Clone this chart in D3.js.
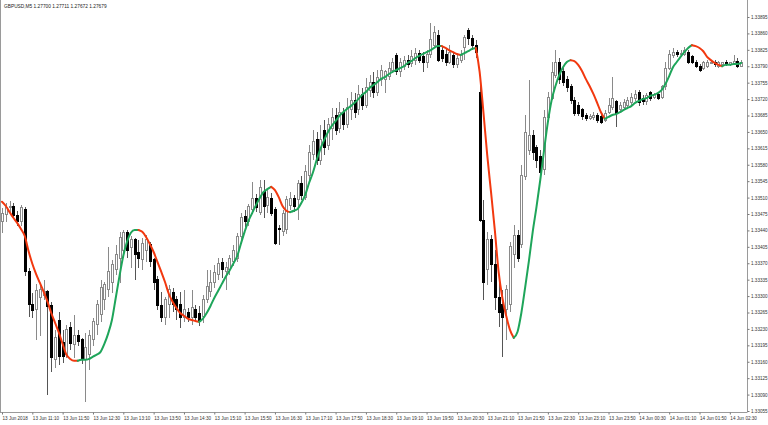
<!DOCTYPE html>
<html><head><meta charset="utf-8">
<script src="https://cdn.jsdelivr.net/npm/d3@7"></script>
<style>
html,body{margin:0;padding:0;background:#fff;}
svg{display:block;}
text{font-family:"Liberation Sans",Arial,sans-serif;}
</style></head>
<body>
<svg id="c" width="768" height="425"></svg>
<script>
const title = "GBPUSD,M5  1.27700 1.27711 1.27672 1.27679";
const timeLabels = ["13 Jun 2018","13 Jun 11:10","13 Jun 11:50","13 Jun 12:30","13 Jun 13:10","13 Jun 13:50","13 Jun 14:30","13 Jun 15:10","13 Jun 15:50","13 Jun 16:30","13 Jun 17:10","13 Jun 17:50","13 Jun 18:30","13 Jun 19:10","13 Jun 19:50","13 Jun 20:30","13 Jun 21:10","13 Jun 21:50","13 Jun 22:30","13 Jun 23:10","13 Jun 23:50","14 Jun 00:30","14 Jun 01:10","14 Jun 01:50","14 Jun 02:30"];
const priceTicks = [1.33895,1.33860,1.33825,1.33790,1.33755,1.33720,1.33685,1.33650,1.33615,1.33580,1.33545,1.33510,1.33475,1.33440,1.33405,1.33370,1.33335,1.33300,1.33265,1.33230,1.33195,1.33160,1.33125,1.33090,1.33055];

const open = [1.33458,1.33475,1.33488,1.33492,1.33471,1.33458,1.33484,1.33352,1.33281,1.33271,
1.33296,1.33301,1.33309,1.33279,1.33164,1.33249,1.33200,1.33175,1.33232,1.33196,
1.33217,1.33207,1.33164,1.33175,1.33207,1.33239,1.33260,1.33292,1.33313,1.33330,
1.33356,1.33381,1.33398,1.33435,1.33403,1.33420,1.33392,1.33377,1.33398,1.33409,
1.33377,1.33335,1.33279,1.33254,1.33281,1.33307,1.33292,1.33281,1.33254,1.33266,
1.33254,1.33271,1.33262,1.33256,1.33292,1.33309,1.33328,1.33345,1.33371,1.33352,
1.33356,1.33373,1.33381,1.33426,1.33469,1.33458,1.33484,1.33509,1.33479,1.33522,
1.33494,1.33509,1.33484,1.33445,1.33437,1.33441,1.33494,1.33509,1.33505,1.33541,
1.33511,1.33558,1.33601,1.33633,1.33590,1.33654,1.33622,1.33658,1.33686,1.33658,
1.33692,1.33665,1.33697,1.33718,1.33697,1.33729,1.33707,1.33739,1.33756,1.33735,
1.33761,1.33761,1.33769,1.33782,1.33812,1.33778,1.33790,1.33803,1.33795,1.33803,
1.33818,1.33810,1.33799,1.33814,1.33835,1.33856,1.33824,1.33814,1.33799,1.33812,
1.33793,1.33803,1.33829,1.33867,1.33850,1.33835,1.33733,1.33462,1.33356,1.33420,
1.33367,1.33298,1.33281,1.33271,1.33281,1.33388,1.33430,1.33409,1.33554,1.33611,
1.33643,1.33616,1.33597,1.33569,1.33680,1.33722,1.33771,1.33797,1.33778,1.33761,
1.33746,1.33718,1.33707,1.33697,1.33686,1.33678,1.33680,1.33686,1.33682,1.33675,
1.33692,1.33701,1.33714,1.33697,1.33703,1.33707,1.33712,1.33722,1.33735,1.33722,
1.33714,1.33733,1.33724,1.33729,1.33724,1.33746,1.33786,1.33812,1.33820,1.33814,
1.33816,1.33820,1.33810,1.33799,1.33790,1.33786,1.33790,1.33797,1.33799,1.33790,
1.33793,1.33799,1.33793,1.33795,1.33801,1.33790];

const high = [1.33488,1.33499,1.33503,1.33499,1.33482,1.33494,1.33490,1.33360,1.33307,1.33326,
1.33322,1.33335,1.33313,1.33288,1.33228,1.33266,1.33228,1.33239,1.33245,1.33260,
1.33228,1.33211,1.33222,1.33228,1.33254,1.33292,1.33335,1.33330,1.33405,1.33377,
1.33409,1.33437,1.33441,1.33441,1.33428,1.33424,1.33420,1.33424,1.33430,1.33416,
1.33381,1.33343,1.33309,1.33298,1.33324,1.33318,1.33301,1.33309,1.33313,1.33275,
1.33313,1.33281,1.33279,1.33303,1.33356,1.33356,1.33367,1.33381,1.33381,1.33373,
1.33388,1.33409,1.33435,1.33477,1.33484,1.33496,1.33543,1.33518,1.33548,1.33548,
1.33526,1.33520,1.33490,1.33452,1.33484,1.33514,1.33522,1.33516,1.33548,1.33556,
1.33580,1.33622,1.33654,1.33650,1.33665,1.33675,1.33680,1.33701,1.33701,1.33714,
1.33701,1.33722,1.33735,1.33733,1.33750,1.33744,1.33765,1.33771,1.33778,1.33782,
1.33793,1.33782,1.33799,1.33807,1.33818,1.33807,1.33812,1.33814,1.33824,1.33829,
1.33824,1.33820,1.33824,1.33882,1.33876,1.33867,1.33833,1.33829,1.33835,1.33818,
1.33814,1.33824,1.33856,1.33871,1.33856,1.33846,1.33767,1.33505,1.33437,1.33430,
1.33398,1.33341,1.33313,1.33324,1.33416,1.33452,1.33441,1.33580,1.33686,1.33761,
1.33654,1.33622,1.33611,1.33697,1.33735,1.33799,1.33824,1.33807,1.33786,1.33769,
1.33752,1.33724,1.33714,1.33701,1.33690,1.33688,1.33692,1.33690,1.33688,1.33697,
1.33722,1.33767,1.33718,1.33714,1.33720,1.33724,1.33733,1.33739,1.33739,1.33729,
1.33733,1.33737,1.33733,1.33733,1.33750,1.33799,1.33824,1.33829,1.33824,1.33824,
1.33831,1.33824,1.33814,1.33803,1.33795,1.33801,1.33803,1.33803,1.33803,1.33801,
1.33799,1.33803,1.33799,1.33814,1.33807,1.33803];

const low = [1.33435,1.33458,1.33475,1.33465,1.33450,1.33450,1.33343,1.33256,1.33254,1.33207,
1.33215,1.33292,1.33090,1.33139,1.33147,1.33154,1.33158,1.33168,1.33185,1.33168,
1.33194,1.33156,1.33075,1.33143,1.33194,1.33217,1.33245,1.33271,1.33298,1.33307,
1.33345,1.33328,1.33381,1.33381,1.33360,1.33335,1.33360,1.33356,1.33373,1.33362,
1.33313,1.33271,1.33245,1.33239,1.33254,1.33266,1.33249,1.33232,1.33245,1.33245,
1.33239,1.33245,1.33237,1.33243,1.33286,1.33298,1.33318,1.33335,1.33339,1.33313,
1.33345,1.33364,1.33373,1.33413,1.33447,1.33450,1.33477,1.33479,1.33473,1.33467,
1.33477,1.33471,1.33409,1.33409,1.33428,1.33433,1.33484,1.33479,1.33462,1.33505,
1.33505,1.33548,1.33590,1.33580,1.33580,1.33601,1.33611,1.33633,1.33643,1.33648,
1.33654,1.33658,1.33675,1.33680,1.33686,1.33697,1.33701,1.33724,1.33722,1.33727,
1.33748,1.33733,1.33761,1.33776,1.33771,1.33767,1.33782,1.33786,1.33788,1.33793,
1.33797,1.33778,1.33786,1.33807,1.33829,1.33799,1.33799,1.33790,1.33795,1.33786,
1.33786,1.33797,1.33803,1.33835,1.33824,1.33807,1.33458,1.33292,1.33324,1.33330,
1.33271,1.33234,1.33171,1.33207,1.33266,1.33360,1.33373,1.33403,1.33548,1.33601,
1.33590,1.33573,1.33548,1.33558,1.33671,1.33718,1.33765,1.33752,1.33748,1.33735,
1.33709,1.33684,1.33684,1.33675,1.33673,1.33675,1.33675,1.33669,1.33667,1.33671,
1.33688,1.33697,1.33660,1.33690,1.33697,1.33701,1.33707,1.33716,1.33705,1.33707,
1.33707,1.33716,1.33720,1.33718,1.33720,1.33739,1.33782,1.33807,1.33810,1.33812,
1.33812,1.33795,1.33795,1.33786,1.33778,1.33782,1.33786,1.33795,1.33788,1.33786,
1.33790,1.33790,1.33790,1.33793,1.33786,1.33788];

const close = [1.33477,1.33488,1.33492,1.33471,1.33458,1.33488,1.33352,1.33281,1.33269,1.33311,
1.33313,1.33309,1.33277,1.33168,1.33211,1.33171,1.33171,1.33228,1.33198,1.33217,
1.33203,1.33164,1.33190,1.33217,1.33245,1.33281,1.33318,1.33324,1.33352,1.33367,
1.33388,1.33424,1.33435,1.33398,1.33420,1.33388,1.33381,1.33413,1.33420,1.33373,
1.33328,1.33279,1.33254,1.33292,1.33313,1.33281,1.33271,1.33254,1.33271,1.33254,
1.33275,1.33254,1.33245,1.33292,1.33320,1.33330,1.33350,1.33369,1.33356,1.33360,
1.33381,1.33398,1.33426,1.33467,1.33458,1.33490,1.33509,1.33488,1.33531,1.33490,
1.33511,1.33477,1.33413,1.33441,1.33477,1.33505,1.33509,1.33490,1.33541,1.33514,
1.33565,1.33607,1.33629,1.33590,1.33633,1.33616,1.33665,1.33680,1.33654,1.33692,
1.33665,1.33701,1.33718,1.33692,1.33729,1.33707,1.33744,1.33756,1.33735,1.33765,
1.33782,1.33778,1.33786,1.33799,1.33778,1.33797,1.33803,1.33793,1.33810,1.33818,
1.33803,1.33797,1.33814,1.33846,1.33863,1.33803,1.33807,1.33799,1.33820,1.33793,
1.33807,1.33814,1.33852,1.33850,1.33835,1.33820,1.33462,1.33328,1.33420,1.33367,
1.33298,1.33264,1.33254,1.33313,1.33405,1.33430,1.33381,1.33558,1.33648,1.33643,
1.33607,1.33590,1.33563,1.33680,1.33724,1.33776,1.33797,1.33761,1.33756,1.33744,
1.33718,1.33690,1.33690,1.33682,1.33678,1.33682,1.33686,1.33675,1.33671,1.33690,
1.33707,1.33722,1.33690,1.33707,1.33712,1.33718,1.33724,1.33729,1.33712,1.33714,
1.33727,1.33722,1.33729,1.33722,1.33746,1.33786,1.33814,1.33820,1.33814,1.33818,
1.33824,1.33799,1.33799,1.33790,1.33782,1.33797,1.33799,1.33799,1.33793,1.33797,
1.33797,1.33793,1.33797,1.33801,1.33790,1.33799];

const maLine = [1.33501,1.33492,1.33479,1.33467,1.33456,1.33443,1.33428,1.33396,1.33369,1.33347,
1.33328,1.33309,1.33288,1.33264,1.33243,1.33222,1.33198,1.33175,1.33166,1.33162,
1.33162,1.33164,1.33164,1.33166,1.33171,1.33175,1.33181,1.33198,1.33220,1.33249,
1.33296,1.33343,1.33386,1.33416,1.33435,1.33441,1.33441,1.33437,1.33426,1.33411,
1.33394,1.33373,1.33352,1.33330,1.33305,1.33288,1.33275,1.33264,1.33258,1.33252,
1.33249,1.33247,1.33245,1.33252,1.33264,1.33279,1.33296,1.33311,1.33326,1.33341,
1.33354,1.33369,1.33384,1.33411,1.33437,1.33460,1.33477,1.33494,1.33509,1.33522,
1.33528,1.33533,1.33526,1.33511,1.33492,1.33482,1.33479,1.33482,1.33486,1.33499,
1.33516,1.33541,1.33563,1.33590,1.33614,1.33633,1.33650,1.33663,1.33673,1.33684,
1.33692,1.33699,1.33705,1.33712,1.33720,1.33729,1.33735,1.33744,1.33750,1.33756,
1.33763,1.33767,1.33773,1.33778,1.33782,1.33786,1.33790,1.33797,1.33801,1.33807,
1.33812,1.33816,1.33820,1.33824,1.33829,1.33833,1.33833,1.33829,1.33824,1.33820,
1.33816,1.33814,1.33818,1.33822,1.33827,1.33829,1.33778,1.33692,1.33601,1.33522,
1.33441,1.33352,1.33296,1.33258,1.33228,1.33211,1.33224,1.33264,1.33318,1.33375,
1.33437,1.33490,1.33548,1.33611,1.33671,1.33718,1.33748,1.33771,1.33788,1.33799,
1.33803,1.33801,1.33793,1.33780,1.33763,1.33748,1.33731,1.33712,1.33692,1.33678,
1.33682,1.33686,1.33688,1.33692,1.33697,1.33701,1.33705,1.33712,1.33716,1.33720,
1.33722,1.33727,1.33729,1.33733,1.33739,1.33752,1.33769,1.33788,1.33799,1.33810,
1.33820,1.33829,1.33835,1.33833,1.33829,1.33822,1.33810,1.33803,1.33797,1.33793,
1.33790,1.33793,1.33793,1.33795,1.33795,1.33797];

const svg = d3.select("#c");
const n = close.length;
const x = d3.scaleLinear().domain([0, n - 1]).range([2, 741.2]);
const y = d3.scaleLinear().domain([1.33055, 1.33895]).range([411, 17]);

const frameRight = 747, frameBottom = 412.5;

// frame
svg.append("line").attr("x1",0.5).attr("x2",0.5).attr("y1",0).attr("y2",frameBottom).attr("stroke","#9a9a9a");
svg.append("line").attr("x1",0).attr("x2",frameRight).attr("y1",frameBottom).attr("y2",frameBottom).attr("stroke","#9a9a9a");
svg.append("line").attr("x1",frameRight+0.5).attr("x2",frameRight+0.5).attr("y1",0).attr("y2",frameBottom).attr("stroke","#9a9a9a");

// right price axis
const yAxis = d3.axisRight(y).tickValues(priceTicks).tickFormat(d3.format(".5f")).tickSize(2).tickPadding(1.5);
const ga = svg.append("g").attr("transform",`translate(${frameRight+0.5},0)`).call(yAxis);
ga.select(".domain").remove();
ga.selectAll(".tick line").attr("stroke","#777");
ga.selectAll(".tick text").attr("font-size","4.6px").attr("fill","#333").attr("font-family","'Liberation Sans',Arial,sans-serif");

// bottom time axis
const tickIdx = timeLabels.map((d,i)=>i*8);
const xAxis = d3.axisBottom(x).tickValues(tickIdx).tickFormat((d,i)=>timeLabels[i]).tickSize(2).tickPadding(2);
const gx = svg.append("g").attr("transform",`translate(0,${frameBottom})`).call(xAxis);
gx.select(".domain").remove();
gx.selectAll(".tick line").attr("stroke","#777");
gx.selectAll(".tick text").attr("font-size","4.6px").attr("fill","#333").attr("text-anchor","start").attr("font-family","'Liberation Sans',Arial,sans-serif");

// title
svg.append("text").attr("x",4).attr("y",8).attr("font-size","4.8px").attr("fill","#222").text(title);

// candles
const bars = d3.range(n).map(i=>({i,o:open[i],h:high[i],l:low[i],c:close[i]}));
const g = svg.append("g").attr("shape-rendering","crispEdges");
g.selectAll("line.wick").data(bars).join("line")
  .attr("class","wick")
  .attr("x1",d=>Math.round(x(d.i))+0.5).attr("x2",d=>Math.round(x(d.i))+0.5)
  .attr("y1",d=>y(d.h)).attr("y2",d=>y(d.l))
  .attr("stroke",d=>d.c>=d.o?"#8a8a8a":"#555");
const bw = 3;
g.selectAll("rect.body").data(bars).join("rect")
  .attr("class","body")
  .attr("x",d=>Math.round(x(d.i))-1+0.5)
  .attr("y",d=>y(Math.max(d.o,d.c)))
  .attr("width",bw-1)
  .attr("height",d=>Math.max(1,Math.abs(y(d.o)-y(d.c))))
  .attr("fill",d=>d.c>=d.o?"#ffffff":"#000000")
  .attr("stroke",d=>d.c>=d.o?"#8a8a8a":"#000000")
  .attr("stroke-width",1);

// colored moving average
const segColor = [];
let prev = maLine[1] >= maLine[0] ? "up" : "down";
for (let i=1;i<n;i++){
  let dir = maLine[i] > maLine[i-1] ? "up" : (maLine[i] < maLine[i-1] ? "down" : prev);
  segColor[i] = dir; prev = dir;
}
const runs = [];
let start = 1;
for (let i=2;i<=n;i++){
  if (i===n || segColor[i]!==segColor[start]){
    runs.push({dir:segColor[start], from:start-1, to:i-1});
    start = i;
  }
}
const lineGen = d3.line().x(d=>x(d)).y(d=>y(maLine[d])).curve(d3.curveMonotoneX);
svg.append("g").selectAll("path").data(runs).join("path")
  .attr("d",r=>lineGen(d3.range(r.from, r.to+1)))
  .attr("fill","none")
  .attr("stroke",r=>r.dir==="up"?"#1ea55a":"#f2380f")
  .attr("stroke-width",2)
  .attr("stroke-linecap","round")
  .attr("stroke-linejoin","round");
</script>
</body></html>
